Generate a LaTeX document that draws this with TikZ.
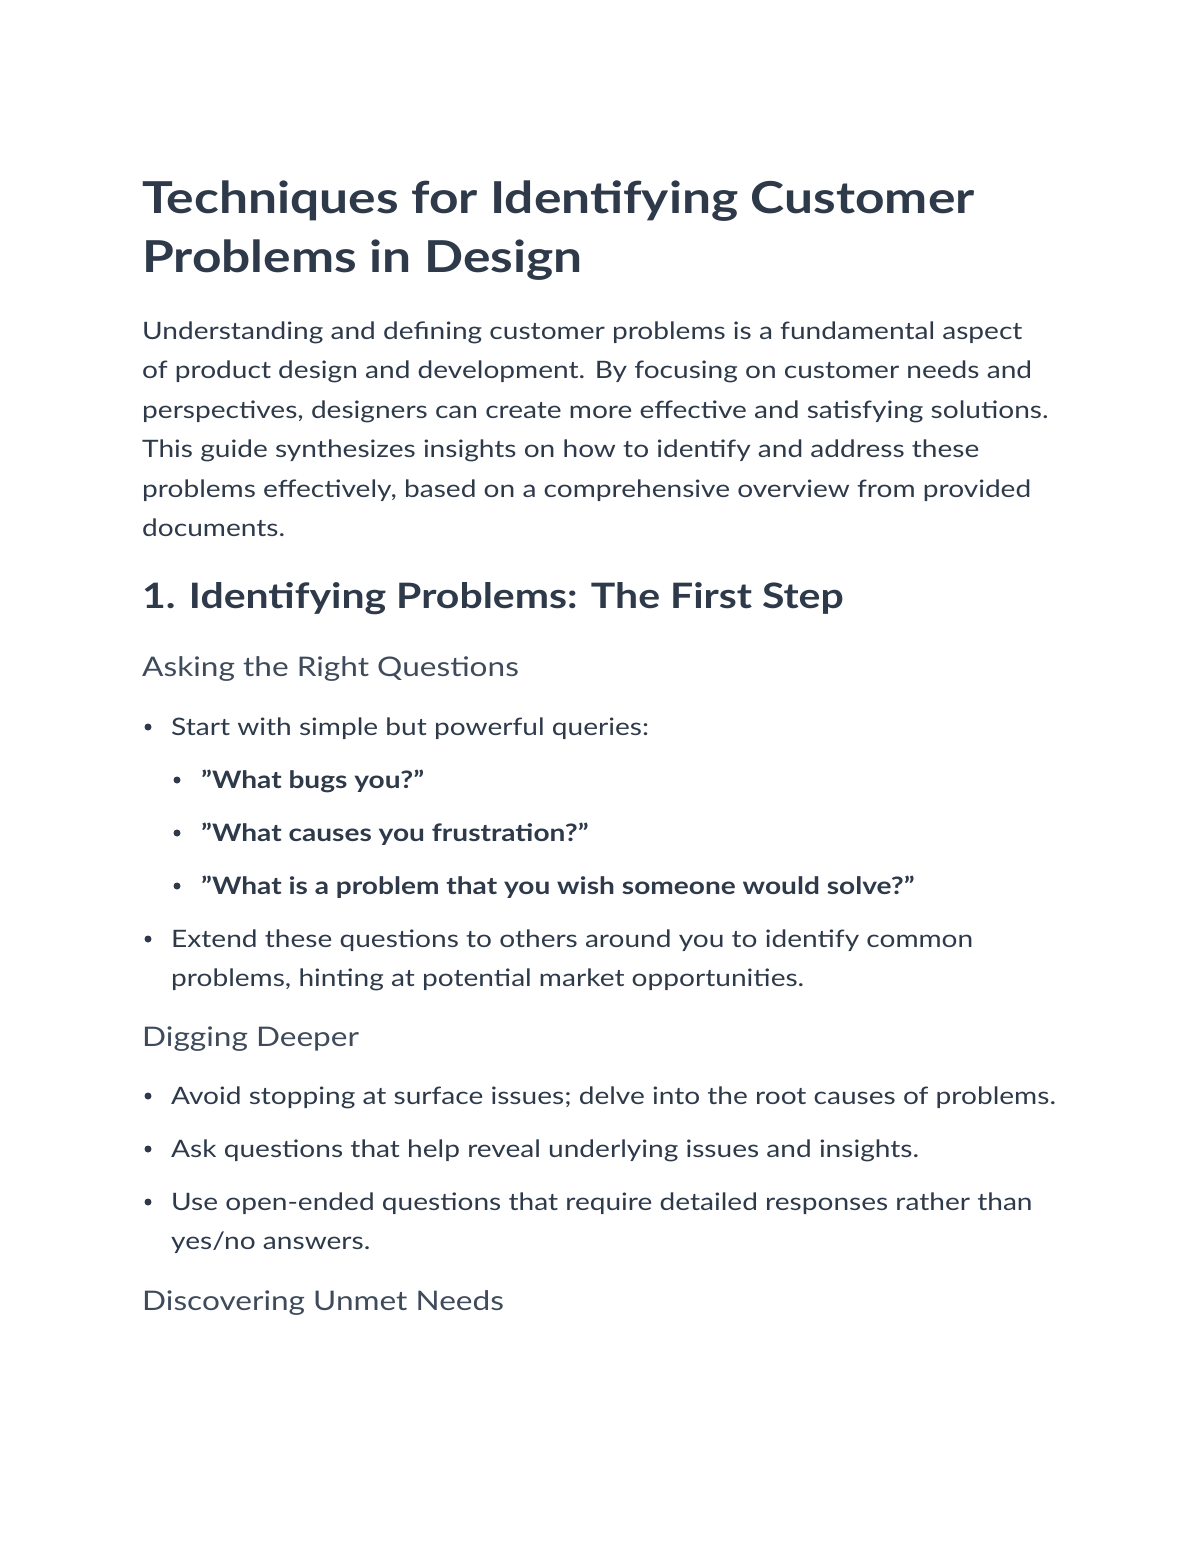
\documentclass[tikz,border=0pt]{standalone}
\usepackage{fontspec}
\setmainfont{Lato}[FakeStretch=1.17]
\definecolor{ink}{HTML}{2E3A4A}
\definecolor{sub}{HTML}{3F4B5B}
\newcommand{\sq}{\char"22\relax}
\begin{document}
\begin{tikzpicture}[x=1pt,y=-1pt,
  every node/.style={anchor=base west,inner sep=0pt,text=ink},
  ttl/.style={font=\fontsize{44}{50}\selectfont\bfseries},
  h1/.style={font=\fontsize{35}{40}\selectfont\bfseries},
  h2/.style={font=\fontsize{27}{32}\selectfont,text=sub},
  body/.style={font=\fontsize{24}{28}\selectfont},
  bq/.style={font=\fontsize{24}{28}\selectfont\bfseries},
  dot/.style={circle,fill=ink,minimum size=7pt,inner sep=0pt,anchor=center}]
\useasboundingbox (0,0) rectangle (1200,1553);
\node[ttl] (t1) at (142,213) {Techniques for Identifying Customer};
\node[ttl] (t2) at (142,272) {Problems in Design};
\node[body] (p1) at (142,339) {Understanding and defining customer problems is a fundamental aspect};
\node[body] (p2) at (142,378) {of product design and development. By focusing on customer needs and};
\node[body] (p3) at (142,418) {perspectives, designers can create more effective and satisfying solutions.};
\node[body] (p4) at (142,457) {This guide synthesizes insights on how to identify and address these};
\node[body] (p5) at (142,497) {problems effectively, based on a comprehensive overview from provided};
\node[body] (p6) at (142,536) {documents.};
\node[h1] (s1) at (142,608) {1. Identifying Problems: The First Step};
\node[h2] (a1) at (142,676) {Asking the Right Questions};
\node[dot] (d1) at (148,727) {};
\node[body] (b1) at (171,735) {Start with simple but powerful queries:};
\node[dot] (d2) at (177,780) {};
\node[bq] (b2) at (201,788) {\sq What bugs you?”};
\node[dot] (d3) at (177,833) {};
\node[bq] (b3) at (201,841) {\sq What causes you frustration?”};
\node[dot] (d4) at (177,886) {};
\node[bq] (b4) at (201,894) {\sq What is a problem that you wish someone would solve?”};
\node[dot] (d5) at (148,939) {};
\node[body] (b5) at (171,947) {Extend these questions to others around you to identify common};
\node[body] (b5b) at (171,986) {problems, hinting at potential market opportunities.};
\node[h2] (a2) at (142,1046) {Digging Deeper};
\node[dot] (d6) at (148,1096) {};
\node[body] (b6) at (171,1104) {Avoid stopping at surface issues; delve into the root causes of problems.};
\node[dot] (d7) at (148,1149) {};
\node[body] (b7) at (171,1157) {Ask questions that help reveal underlying issues and insights.};
\node[dot] (d8) at (148,1202) {};
\node[body] (b8) at (171,1210) {Use open-ended questions that require detailed responses rather than};
\node[body] (b8b) at (171,1249) {yes/no answers.};
\node[h2] (a3) at (142,1310) {Discovering Unmet Needs};
\end{tikzpicture}
\end{document}
